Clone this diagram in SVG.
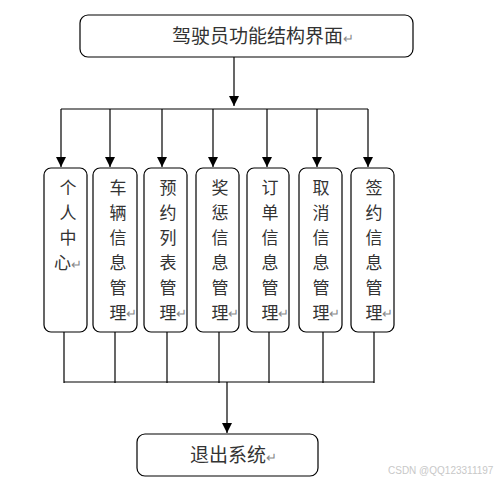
<svg xmlns="http://www.w3.org/2000/svg" width="498" height="483" viewBox="0 0 498 483">
<style>
.box{fill:#fff;stroke:#000;stroke-width:1.2}
.ln{stroke:#000;stroke-width:1.2;fill:none}
.t{font-family:"Noto Sans CJK SC","Liberation Sans",sans-serif;font-size:19px;fill:#333}
.v{font-family:"Noto Sans CJK SC","Liberation Sans",sans-serif;font-size:17px;fill:#333;text-anchor:middle}
.r{fill:#888;font-size:13px}
.wm{font-family:"Liberation Sans",sans-serif;font-size:10px;fill:#c8c8c8}
</style>
<defs>
<marker id="ah" viewBox="0 0 10 10" refX="10" refY="5" markerWidth="10" markerHeight="10" markerUnits="userSpaceOnUse" orient="auto">
<path d="M0,0 L10,5 L0,10 Z" fill="#000"/>
</marker>
</defs>
<rect width="498" height="483" fill="#fff"/>
<g id="connectors">
<line class="ln" x1="234" y1="57" x2="234" y2="106" marker-end="url(#ah)"/>
<line class="ln" x1="61" y1="109" x2="368" y2="109"/>
<line class="ln" x1="61" y1="109" x2="61" y2="167" marker-end="url(#ah)"/>
<line class="ln" x1="110" y1="109" x2="110" y2="167" marker-end="url(#ah)"/>
<line class="ln" x1="162" y1="109" x2="162" y2="167" marker-end="url(#ah)"/>
<line class="ln" x1="213" y1="109" x2="213" y2="167" marker-end="url(#ah)"/>
<line class="ln" x1="267" y1="109" x2="267" y2="167" marker-end="url(#ah)"/>
<line class="ln" x1="317" y1="109" x2="317" y2="167" marker-end="url(#ah)"/>
<line class="ln" x1="368" y1="109" x2="368" y2="167" marker-end="url(#ah)"/>
<line class="ln" x1="64" y1="332" x2="64" y2="383"/>
<line class="ln" x1="115" y1="332" x2="115" y2="383"/>
<line class="ln" x1="167" y1="332" x2="167" y2="383"/>
<line class="ln" x1="219" y1="332" x2="219" y2="383"/>
<line class="ln" x1="269" y1="332" x2="269" y2="383"/>
<line class="ln" x1="323" y1="332" x2="323" y2="383"/>
<line class="ln" x1="374" y1="332" x2="374" y2="383"/>
<line class="ln" x1="64" y1="382" x2="374" y2="382"/>
<line class="ln" x1="227" y1="382" x2="227" y2="433" marker-end="url(#ah)"/>
</g>
<g id="top">
<rect class="box" x="80" y="15" width="333" height="42" rx="8"/>
<text class="t" x="172" y="43">驾驶员功能结构界面<tspan class="r">↵</tspan></text>
</g>
<g id="n1">
<rect class="box" x="44" y="168" width="43" height="164" rx="7"/>
<text class="v"><tspan x="68" y="194">个</tspan><tspan x="68" y="219">人</tspan><tspan x="68" y="244">中</tspan><tspan x="68" y="269">心<tspan class="r">↵</tspan></tspan></text>
</g>
<g id="n2">
<rect class="box" x="93" y="168" width="44" height="164" rx="7"/>
<text class="v"><tspan x="118" y="194">车</tspan><tspan x="118" y="219">辆</tspan><tspan x="118" y="244">信</tspan><tspan x="118" y="269">息</tspan><tspan x="118" y="294">管</tspan><tspan x="118" y="319">理</tspan></text>
<text class="v r" x="131" y="318">↵</text>
</g>
<g id="n3">
<rect class="box" x="144" y="168" width="43" height="164" rx="7"/>
<text class="v"><tspan x="168" y="194">预</tspan><tspan x="168" y="219">约</tspan><tspan x="168" y="244">列</tspan><tspan x="168" y="269">表</tspan><tspan x="168" y="294">管</tspan><tspan x="168" y="319">理</tspan></text>
<text class="v r" x="181" y="318">↵</text>
</g>
<g id="n4">
<rect class="box" x="196" y="168" width="43" height="164" rx="7"/>
<text class="v"><tspan x="220" y="194">奖</tspan><tspan x="220" y="219">惩</tspan><tspan x="220" y="244">信</tspan><tspan x="220" y="269">息</tspan><tspan x="220" y="294">管</tspan><tspan x="220" y="319">理</tspan></text>
<text class="v r" x="233" y="318">↵</text>
</g>
<g id="n5">
<rect class="box" x="247" y="168" width="42" height="164" rx="7"/>
<text class="v"><tspan x="270" y="194">订</tspan><tspan x="270" y="219">单</tspan><tspan x="270" y="244">信</tspan><tspan x="270" y="269">息</tspan><tspan x="270" y="294">管</tspan><tspan x="270" y="319">理</tspan></text>
<text class="v r" x="283" y="318">↵</text>
</g>
<g id="n6">
<rect class="box" x="299" y="168" width="43" height="164" rx="7"/>
<text class="v"><tspan x="321" y="194">取</tspan><tspan x="321" y="219">消</tspan><tspan x="321" y="244">信</tspan><tspan x="321" y="269">息</tspan><tspan x="321" y="294">管</tspan><tspan x="321" y="319">理</tspan></text>
<text class="v r" x="334" y="318">↵</text>
</g>
<g id="n7">
<rect class="box" x="351" y="168" width="43" height="164" rx="7"/>
<text class="v"><tspan x="374" y="194">签</tspan><tspan x="374" y="219">约</tspan><tspan x="374" y="244">信</tspan><tspan x="374" y="269">息</tspan><tspan x="374" y="294">管</tspan><tspan x="374" y="319">理</tspan></text>
<text class="v r" x="387" y="318">↵</text>
</g>
<g id="exit">
<rect class="box" x="137" y="434" width="181" height="42" rx="8"/>
<text class="t" x="190" y="462">退出系统<tspan class="r">↵</tspan></text>
</g>
<text class="wm" x="388" y="474">CSDN @QQ123311197</text>
</svg>
